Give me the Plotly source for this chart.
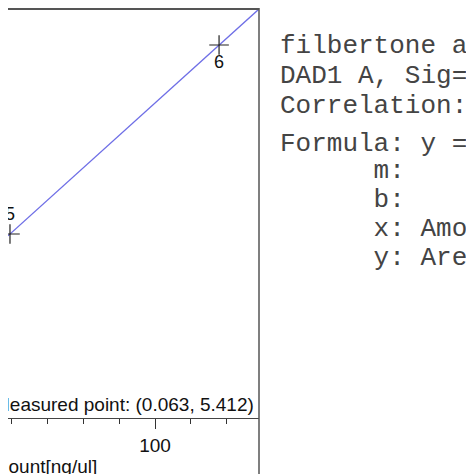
import plotly.graph_objects as go

W = H = 474
amount = [19.4, 135.6]
area = [1840, 3730]
labels = ["5", "6"]
fit_x = [18.3, 157.8]
fit_y = [1822, 4090]
info_lines = ["filbertone a", "DAD1 A, Sig=", "Correlation:", "Formula: y =",
              "      m:", "      b:", "      x: Amou", "      y: Area"]
info_y = [38, 68, 98, 136, 163, 192, 221, 250]

def px(x): return x / W
def py(y): return 1 - y / H

fig = go.Figure()
fig.add_trace(go.Scatter(x=fit_x, y=fit_y, mode="lines",
                         line=dict(color="#6f6fe6", width=1.3), hoverinfo="skip"))
fig.add_trace(go.Scatter(x=amount, y=area, mode="markers+text", text=labels,
                         textposition=["top center", "bottom center"],
                         textfont=dict(family="Arial, Liberation Sans", size=18, color="#111"),
                         marker=dict(symbol="cross-thin", size=14, line=dict(color="#222", width=1.2)),
                         cliponaxis=False))

fig.update_layout(
    width=W, height=H, margin=dict(l=0, r=0, t=0, b=0, autoexpand=False),
    paper_bgcolor="white", plot_bgcolor="white", showlegend=False,
    xaxis=dict(domain=[0, px(251)], range=[18.3, 157.8], tickvals=[100], ticktext=["100"],
               ticks="outside", ticklen=10, tickcolor="#333", showgrid=False, zeroline=False,
               showline=True, linecolor="#444", linewidth=1, automargin=False,
               minor=dict(dtick=20, tick0=0, ticks="outside", ticklen=5, tickcolor="#333"),
               tickfont=dict(family="Arial, Liberation Sans", size=19, color="#111")),
    yaxis=dict(domain=[py(410), py(1)], range=[0, 4090], visible=False, automargin=False),
)

shapes = [
    dict(type="line", xref="paper", yref="paper", x0=0, x1=px(251), y0=py(1), y1=py(1),
         line=dict(color="#555", width=2)),
    dict(type="line", xref="paper", yref="paper", x0=px(251), x1=px(251), y0=py(0), y1=py(470),
         line=dict(color="#555", width=1.5)),
    dict(type="line", xref="paper", yref="paper", x0=0, x1=px(251), y0=py(469), y1=py(469),
         line=dict(color="#555", width=1.5)),
]
fig.update_layout(shapes=shapes)

ann = [
    dict(text="Measured point: (0.063, 5.412)", x=px(248), y=py(396), xanchor="right", yanchor="middle",
         font=dict(family="Arial, Liberation Sans", size=19, color="#111")),
    dict(text="Amount[ng/ul]", x=px(91), y=py(458), xanchor="right", yanchor="middle",
         font=dict(family="Arial, Liberation Sans", size=19, color="#111")),
]
for t, yy in zip(info_lines, info_y):
    ann.append(dict(text=t.replace(" ", "&nbsp;"), x=px(270), y=py(yy), xanchor="left", yanchor="middle",
                    font=dict(family="Liberation Mono, Courier New, monospace", size=26, color="#444")))
for a in ann:
    a.update(xref="paper", yref="paper", showarrow=False)
fig.update_layout(annotations=ann)

fig.write_html("out.html")
